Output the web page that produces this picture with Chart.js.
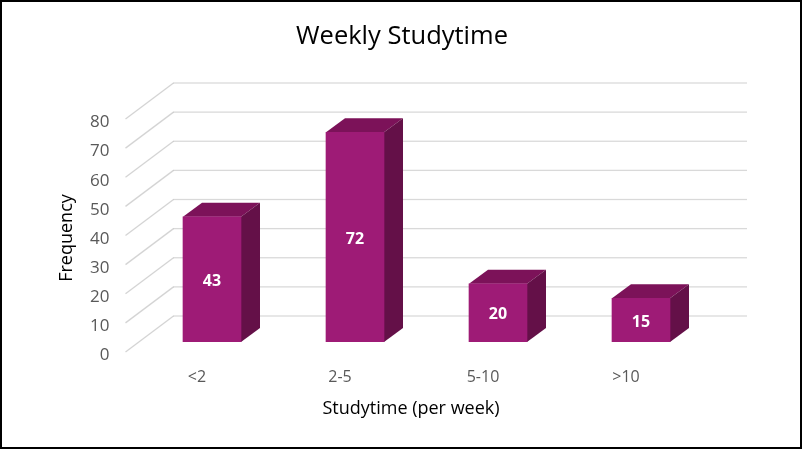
<!DOCTYPE html>
<html>
<head>
<meta charset="utf-8">
<title>Weekly Studytime</title>
<script src="https://cdn.jsdelivr.net/npm/chart.js@4"></script>
<style>
  html, body { margin: 0; padding: 0; background: #fff; }
  canvas { display: block; }
</style>
</head>
<body>
<canvas id="chart" width="802" height="450"></canvas>
<script>
var categories = ['<2', '2-5', '5-10', '>10'];
var frequency = [43, 72, 20, 15];
var yTicks = [0, 10, 20, 30, 40, 50, 60, 70, 80];

var FONT = '"Open Sans", sans-serif';

// offsets of the fake 3D look, relative to the plane the bar fronts sit on
var BAR_DX = 19, BAR_DY = -14;
var WALL_DX = 33, WALL_DY = -26;
var FLOOR_DX = -15, FLOOR_DY = 10;

function poly(ctx, pts, color) {
    ctx.fillStyle = color;
    ctx.beginPath();
    ctx.moveTo(pts[0][0], pts[0][1]);
    for (var i = 1; i < pts.length; i++) ctx.lineTo(pts[i][0], pts[i][1]);
    ctx.closePath();
    ctx.fill();
}

var fake3d = {
    id: 'fake3d',
    beforeDraw: function (chart) {
        var ctx = chart.ctx;
        ctx.save();
        ctx.fillStyle = '#fff';
        ctx.fillRect(0, 0, chart.width, chart.height);
        ctx.restore();
    },
    beforeDatasetsDraw: function (chart) {
        var ctx = chart.ctx, area = chart.chartArea, yScale = chart.scales.y;
        ctx.save();
        // walls
        yTicks.forEach(function (v) {
            var y = yScale.getPixelForValue(v);
            ctx.lineWidth = 1.3;
            ctx.strokeStyle = '#d4d4d4';
            ctx.beginPath();
            ctx.moveTo(area.left + FLOOR_DX, y + FLOOR_DY);
            ctx.lineTo(area.left + WALL_DX, y + WALL_DY);
            ctx.stroke();
            ctx.strokeStyle = '#b4b4b4';
            ctx.setLineDash([1, 1]);
            ctx.beginPath();
            ctx.moveTo(area.left + WALL_DX, y + WALL_DY);
            ctx.lineTo(area.right + WALL_DX + 1.5, y + WALL_DY);
            ctx.stroke();
            ctx.setLineDash([]);
        });
        // bar tops and sides
        chart.getDatasetMeta(0).data.forEach(function (bar) {
            var l = bar.x - bar.width / 2, r = bar.x + bar.width / 2;
            var t = bar.y, b = bar.base;
            poly(ctx, [[l, t], [l + BAR_DX, t + BAR_DY], [r + BAR_DX, t + BAR_DY], [r, t]], '#7c1259');
            poly(ctx, [[r, t], [r + BAR_DX, t + BAR_DY], [r + BAR_DX, b + BAR_DY], [r, b]], '#641048');
        });
        ctx.restore();
    },
    afterDatasetsDraw: function (chart) {
        var ctx = chart.ctx;
        ctx.save();
        ctx.textAlign = 'center';
        ctx.textBaseline = 'middle';
        // value labels
        ctx.fillStyle = '#fff';
        ctx.font = 'bold 16px ' + FONT;
        chart.getDatasetMeta(0).data.forEach(function (bar, i) {
            ctx.fillText(frequency[i], bar.x, (bar.y + bar.base) / 2 + 2);
        });
        // chart and axis titles
        ctx.fillStyle = '#000';
        ctx.font = '25.5px ' + FONT;
        ctx.fillText('Weekly Studytime', 402, 37);
        ctx.font = '18px ' + FONT;
        ctx.fillText('Studytime (per week)', 411, 409);
        ctx.translate(67, 238);
        ctx.rotate(-Math.PI / 2);
        ctx.fillText('Frequency', 0, 0);
        ctx.restore();
    },
    afterDraw: function (chart) {
        var ctx = chart.ctx;
        ctx.save();
        ctx.strokeStyle = '#000';
        ctx.lineWidth = 2;
        ctx.strokeRect(1, 1, chart.width - 2, chart.height - 3);
        ctx.restore();
    }
};

new Chart(document.getElementById('chart').getContext('2d'), {
    type: 'bar',
    data: {
        labels: categories,
        datasets: [{
            label: 'Frequency',
            data: frequency,
            backgroundColor: '#9e1b76',
            barThickness: 58
        }]
    },
    options: {
        responsive: false,
        animation: false,
        devicePixelRatio: 1,
        layout: { padding: { left: 0, right: 89.5, top: 109, bottom: 0 } },
        plugins: {
            legend: { display: false },
            tooltip: { enabled: false }
        },
        scales: {
            x: {
                grid: { display: false, drawTicks: false },
                border: { display: false },
                ticks: {
                    color: '#595959',
                    font: { family: FONT, size: 16 },
                    padding: 26,
                    labelOffset: -15,
                    maxRotation: 0
                },
                afterFit: function (scale) { scale.height = 108; }
            },
            y: {
                min: 0,
                max: 80,
                grid: { display: false, drawTicks: false },
                border: { display: false },
                ticks: {
                    stepSize: 10,
                    color: '#595959',
                    font: { family: FONT, size: 17 },
                    padding: 31,
                    labelOffset: 13.5
                },
                afterFit: function (scale) { scale.width = 140.5; }
            }
        }
    },
    plugins: [fake3d]
});
</script>
</body>
</html>
